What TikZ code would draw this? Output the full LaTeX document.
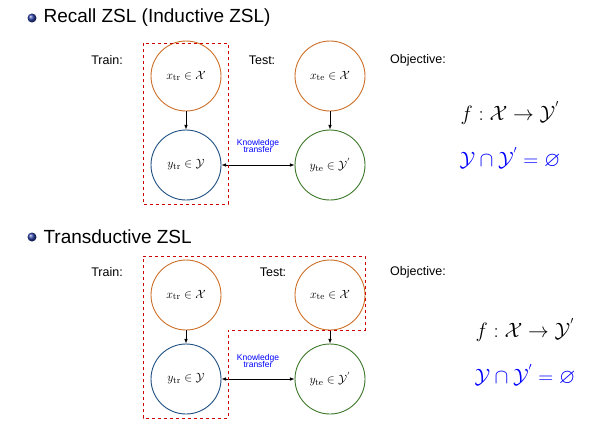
\documentclass[tikz,border=0pt]{standalone}
\usepackage{amsmath,amssymb}
\usepackage{fontspec}
\newfontfamily\sansf{Liberation Sans}
\begin{document}
\begin{tikzpicture}[x=1pt,y=-1pt,
  circ/.style={circle,draw,line width=0.9pt,minimum size=70pt,inner sep=0pt,font=\fontsize{13}{14}\selectfont},
  oc/.style={circ,draw={rgb,255:red,205;green,110;blue,40}},
  bc/.style={circ,draw={rgb,255:red,30;green,80;blue,130}},
  gc/.style={circ,draw={rgb,255:red,60;green,120;blue,40}},
  lab/.style={font=\sansf\fontsize{12.5}{14}\selectfont},
  head/.style={font=\sansf\fontsize{19}{21}\selectfont,anchor=west},
  kt/.style={font=\sansf\fontsize{8.5}{9}\selectfont,text=blue,align=center},
  box/.style={draw=red!80!black,dashed,line width=0.7pt},
  arr/.style={-latex,line width=0.6pt},
  darr/.style={latex-latex,line width=0.6pt},
  big/.style={font=\fontsize{21}{22}\selectfont},
  ball/.style={circle,minimum size=9pt,inner sep=0pt,ball color={rgb,255:red,40;green,60;blue,160}}]
\useasboundingbox (0,0) rectangle (600,424);
% Part 1
\node[ball] (b1) at (32,18) {};
\node[head] (h1) at (40,18) {Recall ZSL (Inductive ZSL)};
\node[lab] (tr1) at (107,60) {Train:};
\node[lab] (te1) at (262,60) {Test:};
\node[lab] (ob1) at (418,60) {Objective:};
\node[oc] (a1) at (186,76) {$x_{\mathrm{tr}}\in\mathcal{X}$};
\node[bc] (c1) at (186,165) {$y_{\mathrm{tr}}\in\mathcal{Y}$};
\node[oc] (b2) at (330,76) {$x_{\mathrm{te}}\in\mathcal{X}$};
\node[gc] (d1) at (330,165) {$y_{\mathrm{te}}\in\mathcal{Y}^{'}$};
\draw[arr] (a1) -- (c1);
\draw[arr] (b2) -- (d1);
\draw[darr] (c1) -- (d1);
\node[kt] (k1) at (258,146) {Knowledge\\[-2pt]transfer};
\draw[box] (143,43) rectangle (228,204);
\node[big] (f1) at (510,113) {$f:\mathcal{X}\rightarrow\mathcal{Y}^{'}$};
\node[big,text=blue] (y1) at (510,158) {$\mathcal{Y}\cap\mathcal{Y}^{'}=\varnothing$};
% Part 2
\node[ball] (b3) at (32,237) {};
\node[head] (h2) at (40,237) {Transductive ZSL};
\node[lab] (tr2) at (107,272) {Train:};
\node[lab] (te2) at (273,272) {Test:};
\node[lab] (ob2) at (418,272) {Objective:};
\node[oc] (a2) at (186,295) {$x_{\mathrm{tr}}\in\mathcal{X}$};
\node[bc] (c2) at (186,379) {$y_{\mathrm{tr}}\in\mathcal{Y}$};
\node[oc] (b4) at (330,295) {$x_{\mathrm{te}}\in\mathcal{X}$};
\node[gc] (d2) at (330,379) {$y_{\mathrm{te}}\in\mathcal{Y}^{'}$};
\draw[arr] (a2) -- (c2);
\draw[arr] (b4) -- (d2);
\draw[darr] (c2) -- (d2);
\node[kt] (k2) at (258,361) {Knowledge\\[-2pt]transfer};
\draw[box] (143,256) -- (365,256) -- (365,330) -- (228,330) -- (228,418) -- (143,418) -- cycle;
\node[big] (f2) at (525,330) {$f:\mathcal{X}\rightarrow\mathcal{Y}^{'}$};
\node[big,text=blue] (y2) at (525,375) {$\mathcal{Y}\cap\mathcal{Y}^{'}=\varnothing$};
\end{tikzpicture}
\end{document}
